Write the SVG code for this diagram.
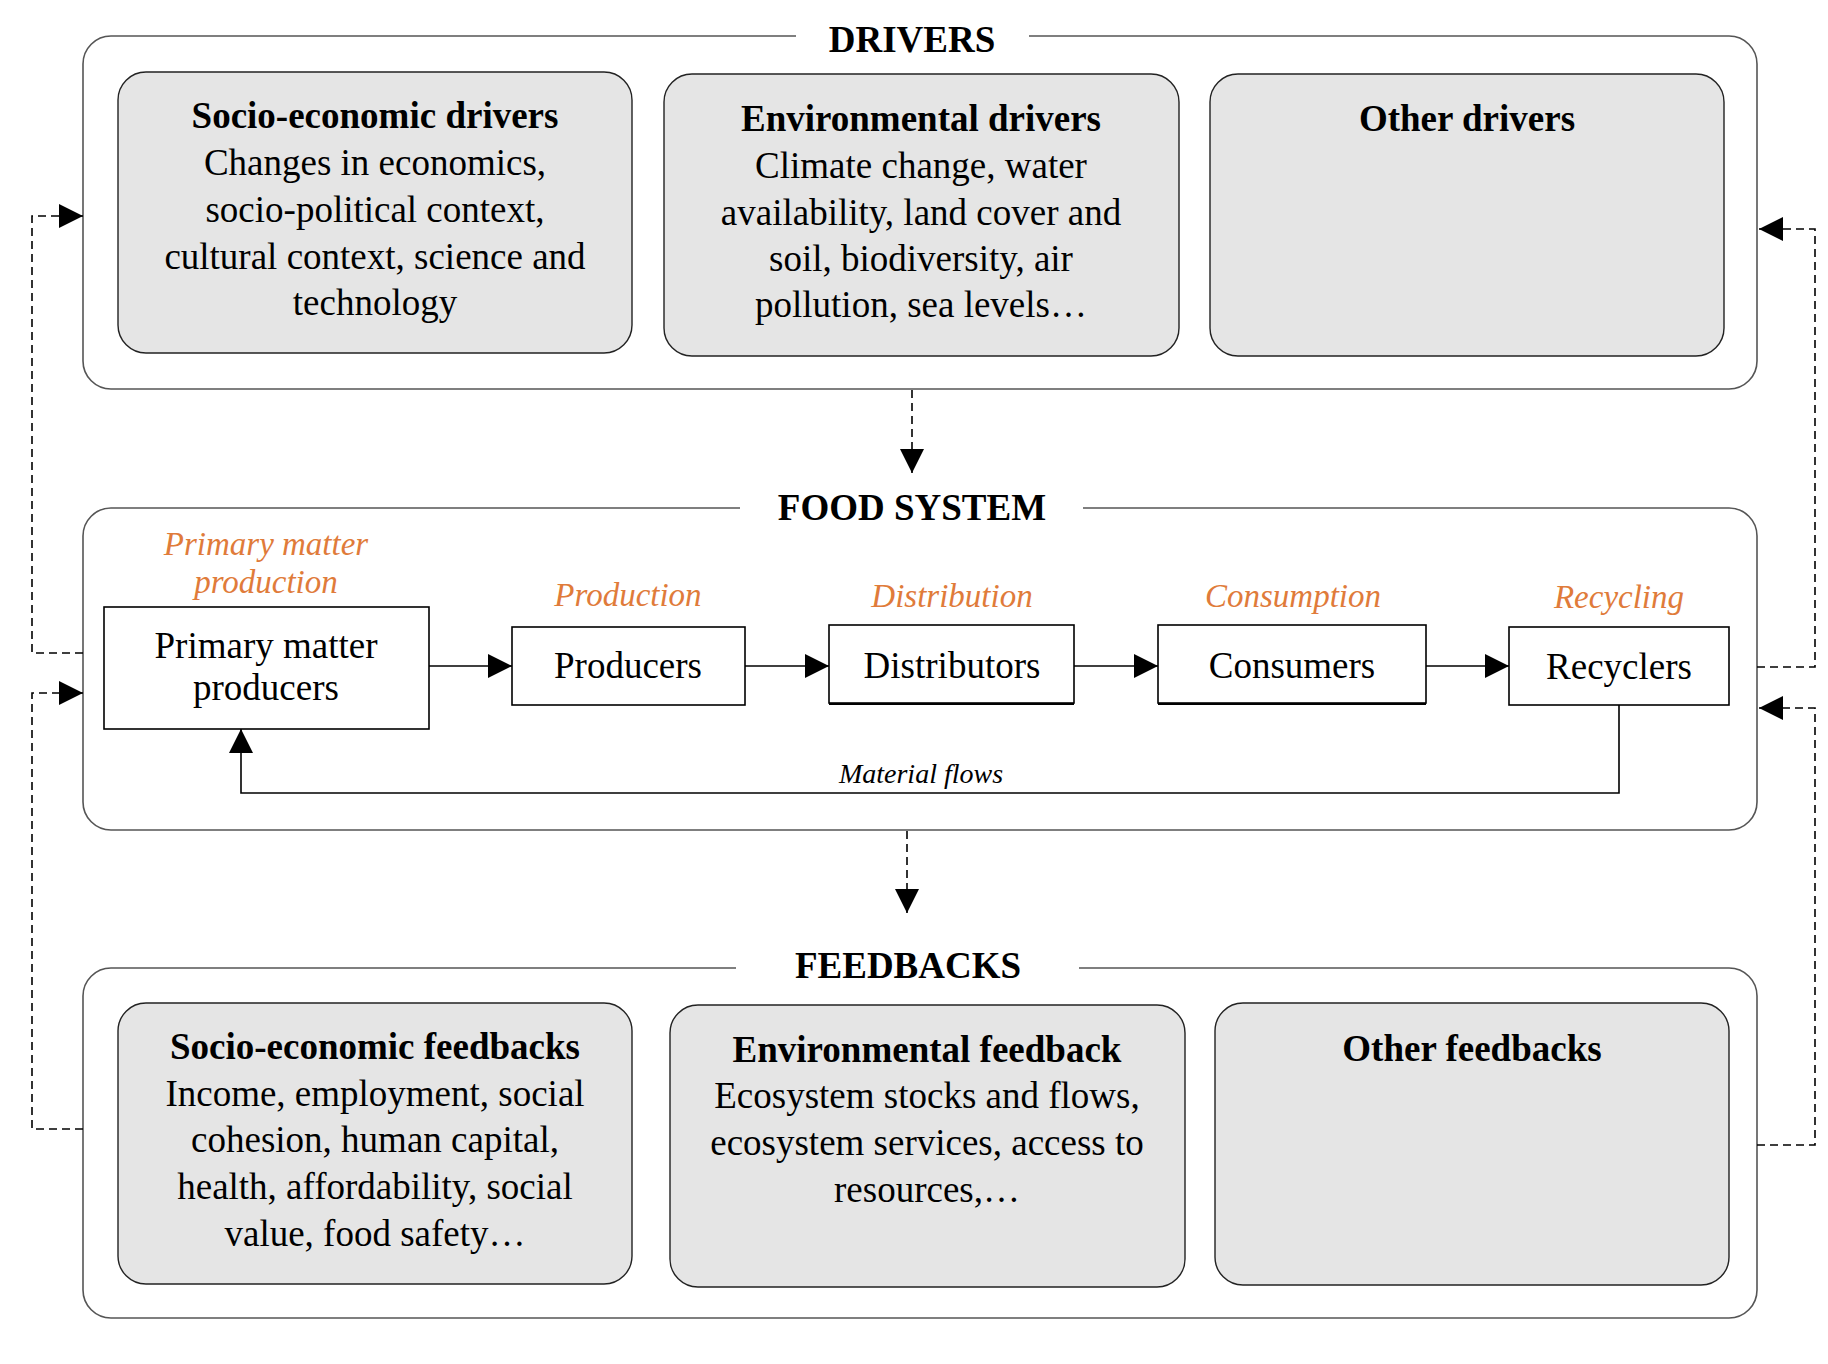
<svg xmlns="http://www.w3.org/2000/svg" width="1828" height="1364" viewBox="0 0 1828 1364">
<defs>
<style>
.outer{fill:none;stroke:#555;stroke-width:1.6}
.card{fill:#e5e5e5;stroke:#222;stroke-width:1.4}
.stage{fill:#fff;stroke:#000;stroke-width:1.6}
.sec{font-family:"Liberation Serif","Times New Roman",serif;font-size:37px;font-weight:bold;text-anchor:middle;fill:#000}
.hd{font-family:"Liberation Serif","Times New Roman",serif;font-size:37px;font-weight:bold;text-anchor:middle;fill:#000}
.bd{font-family:"Liberation Serif","Times New Roman",serif;font-size:37px;text-anchor:middle;fill:#000}
.lab{font-family:"Liberation Serif","Times New Roman",serif;font-size:33px;font-style:italic;text-anchor:middle;fill:#e07b3a}
.mf{font-family:"Liberation Serif","Times New Roman",serif;font-size:28px;font-style:italic;text-anchor:middle;fill:#000}
.solid{fill:none;stroke:#000;stroke-width:1.6}
.dash{fill:none;stroke:#000;stroke-width:1.6;stroke-dasharray:8 5}
</style>
<marker id="ah" markerUnits="userSpaceOnUse" markerWidth="24" markerHeight="24" viewBox="0 0 24 24" refX="24" refY="12" orient="auto">
<path d="M0,0 L24,12 L0,24 z" fill="#000"/>
</marker>
</defs>
<rect width="1828" height="1364" fill="#fff"/>

<g id="drivers">
<path class="outer" d="M796 36 H111 A28 28 0 0 0 83 64 V361 A28 28 0 0 0 111 389 H1729 A28 28 0 0 0 1757 361 V64 A28 28 0 0 0 1729 36 H1029"/>
<text class="sec" x="912" y="52">DRIVERS</text>
</g>
<g id="socio-economic-drivers">
<rect class="card" x="118" y="72" width="514" height="281" rx="28"/>
<text class="hd" x="375" y="128">Socio-economic drivers</text>
<text class="bd" x="375" y="175">Changes in economics,</text>
<text class="bd" x="375" y="222">socio-political context,</text>
<text class="bd" x="375" y="269">cultural context, science and</text>
<text class="bd" x="375" y="315">technology</text>
</g>
<g id="environmental-drivers">
<rect class="card" x="664" y="74" width="515" height="282" rx="28"/>
<text class="hd" x="921" y="131">Environmental drivers</text>
<text class="bd" x="921" y="178">Climate change, water</text>
<text class="bd" x="921" y="225">availability, land cover and</text>
<text class="bd" x="921" y="271">soil, biodiversity, air</text>
<text class="bd" x="921" y="317">pollution, sea levels…</text>
</g>
<g id="other-drivers">
<rect class="card" x="1210" y="74" width="514" height="282" rx="28"/>
<text class="hd" x="1467" y="131">Other drivers</text>
</g>

<g id="food-system">
<path class="outer" d="M740 508 H111 A28 28 0 0 0 83 536 V802 A28 28 0 0 0 111 830 H1729 A28 28 0 0 0 1757 802 V536 A28 28 0 0 0 1729 508 H1083"/>
<text class="sec" x="912" y="520">FOOD SYSTEM</text>
</g>
<g id="primary-matter-producers">
<text class="lab" x="266" y="555">Primary matter</text>
<text class="lab" x="266" y="593">production</text>
<rect class="stage" x="104" y="607" width="325" height="122"/>
<text class="bd" x="266" y="658">Primary matter</text>
<text class="bd" x="266" y="700">producers</text>
</g>
<g id="producers">
<text class="lab" x="628" y="606">Production</text>
<rect class="stage" x="512" y="627" width="233" height="78"/>
<text class="bd" x="628" y="678">Producers</text>
</g>
<g id="distributors">
<text class="lab" x="952" y="607">Distribution</text>
<rect class="stage" x="829" y="625" width="245" height="78"/>
<line x1="829" y1="704" x2="1074" y2="704" stroke="#000" stroke-width="2"/>
<text class="bd" x="952" y="678">Distributors</text>
</g>
<g id="consumers">
<text class="lab" x="1293" y="607">Consumption</text>
<rect class="stage" x="1158" y="625" width="268" height="78"/>
<line x1="1158" y1="704" x2="1426" y2="704" stroke="#000" stroke-width="2"/>
<text class="bd" x="1292" y="678">Consumers</text>
</g>
<g id="recyclers">
<text class="lab" x="1619" y="608">Recycling</text>
<rect class="stage" x="1509" y="627" width="220" height="78"/>
<text class="bd" x="1619" y="679">Recyclers</text>
</g>

<g id="feedbacks">
<path class="outer" d="M736 968 H111 A28 28 0 0 0 83 996 V1290 A28 28 0 0 0 111 1318 H1729 A28 28 0 0 0 1757 1290 V996 A28 28 0 0 0 1729 968 H1079"/>
<text class="sec" x="908" y="978">FEEDBACKS</text>
</g>
<g id="socio-economic-feedbacks">
<rect class="card" x="118" y="1003" width="514" height="281" rx="28"/>
<text class="hd" x="375" y="1059">Socio-economic feedbacks</text>
<text class="bd" x="375" y="1106">Income, employment, social</text>
<text class="bd" x="375" y="1152">cohesion, human capital,</text>
<text class="bd" x="375" y="1199">health, affordability, social</text>
<text class="bd" x="375" y="1246">value, food safety…</text>
</g>
<g id="environmental-feedback">
<rect class="card" x="670" y="1005" width="515" height="282" rx="28"/>
<text class="hd" x="927" y="1062">Environmental feedback</text>
<text class="bd" x="927" y="1108">Ecosystem stocks and flows,</text>
<text class="bd" x="927" y="1155">ecosystem services, access to</text>
<text class="bd" x="927" y="1202">resources,…</text>
</g>
<g id="other-feedbacks">
<rect class="card" x="1215" y="1003" width="514" height="282" rx="28"/>
<text class="hd" x="1472" y="1061">Other feedbacks</text>
</g>

<g id="connectors">
<path class="solid" d="M429 666 H512" marker-end="url(#ah)"/>
<path class="solid" d="M745 666 H829" marker-end="url(#ah)"/>
<path class="solid" d="M1074 666 H1158" marker-end="url(#ah)"/>
<path class="solid" d="M1426 666 H1509" marker-end="url(#ah)"/>
<path class="solid" d="M1619 705 V793 H241 V729" marker-end="url(#ah)"/>
<text class="mf" x="921" y="783">Material flows</text>
<path class="dash" d="M912 390 V473" marker-end="url(#ah)"/>
<path class="dash" d="M907 831 V913" marker-end="url(#ah)"/>
<path class="dash" d="M83 653 H32 V216 H83" marker-end="url(#ah)"/>
<path class="dash" d="M83 1129 H32 V693 H83" marker-end="url(#ah)"/>
<path class="dash" d="M1757 667 H1815 V229 H1759" marker-end="url(#ah)"/>
<path class="dash" d="M1757 1145 H1815 V708 H1759" marker-end="url(#ah)"/>
</g>
</svg>
